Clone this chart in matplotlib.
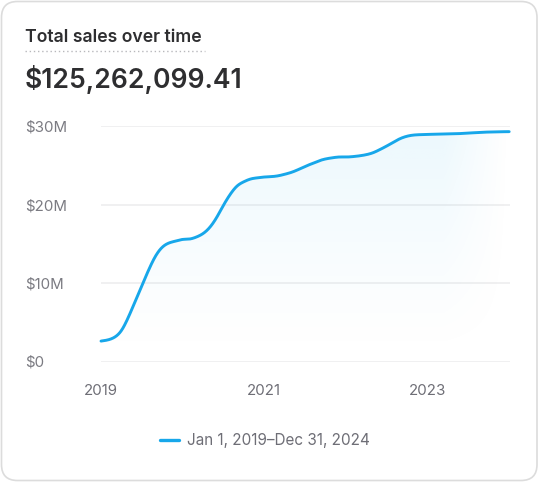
import numpy as np
import matplotlib
matplotlib.use("Agg")
import matplotlib.pyplot as plt
from matplotlib.patches import FancyBboxPatch, Polygon
from matplotlib.lines import Line2D
from matplotlib.transforms import IdentityTransform

# ---------------- data (cumulative sales in $M, monthly from Jan 2019) ----------------
months = np.arange(61)  # months since Jan 2019
sales_m = [2.6, 2.75, 3.1, 3.95, 5.6, 7.6, 9.65, 11.65, 13.4, 14.55, 15.1, 15.35,
           15.55, 15.6, 15.85, 16.3, 17.1, 18.35, 19.9, 21.3, 22.35, 22.9, 23.25, 23.4,
           23.5, 23.55, 23.65, 23.85, 24.1, 24.45, 24.85, 25.2, 25.55, 25.8, 25.95, 26.05,
           26.05, 26.1, 26.2, 26.35, 26.6, 27.0, 27.45, 27.95, 28.4, 28.7, 28.85, 28.9,
           28.93, 28.95, 28.97, 28.99, 29.0, 29.05, 29.1, 29.15, 29.2, 29.23, 29.25, 29.27,
           29.28]
y_ticks = [0, 10, 20, 30]
y_tick_labels = ["$0", "$10M", "$20M", "$30M"]
x_ticks = [2019, 2021, 2023]
x_tick_labels = ["2019", "2021", "2023"]
title = "Total sales over time"
total_label = "$125,262,099.41"
legend_label = "Jan 1, 2019\u2013Dec 31, 2024"

LINE = "#17a7ea"
FONT = ["Inter", "DejaVu Sans"]
plt.rcParams["font.family"] = FONT


def natural_spline(x, y, xs):
    x = np.asarray(x, float); y = np.asarray(y, float)
    n = len(x)
    h = np.diff(x)
    A = np.zeros((n, n)); b = np.zeros(n)
    A[0, 0] = 1; A[-1, -1] = 1
    for i in range(1, n - 1):
        A[i, i - 1] = h[i - 1]; A[i, i] = 2 * (h[i - 1] + h[i]); A[i, i + 1] = h[i]
        b[i] = 3 * ((y[i + 1] - y[i]) / h[i] - (y[i] - y[i - 1]) / h[i - 1])
    c = np.linalg.solve(A, b)
    bb = (y[1:] - y[:-1]) / h - h * (2 * c[:-1] + c[1:]) / 3
    d = (c[1:] - c[:-1]) / (3 * h)
    idx = np.clip(np.searchsorted(x, xs) - 1, 0, n - 2)
    dx = xs - x[idx]
    return y[idx] + bb[idx] * dx + c[idx] * dx**2 + d[idx] * dx**3


W, H = 540, 484
fig = plt.figure(figsize=(W / 100, H / 100), dpi=100)
fig.patch.set_facecolor("white")

# card
card = FancyBboxPatch((1.5, 3.5), 535.5, 479, boxstyle="round,pad=0,rounding_size=16",
                      transform=IdentityTransform(), facecolor="white",
                      edgecolor="#dcdcdc", linewidth=1.2, zorder=-10)
fig.patches.append(card)

left, right = 101 / W, 510 / W
bottom, top = 1 - 361.5 / H, 1 - 126 / H
ax = fig.add_axes([left, bottom, right - left, top - bottom])
ax.set_facecolor("none")
ax.set_zorder(1)

t = 2019 + months / 12.0
xs = np.linspace(t[0], t[-1], 1200)
ys = natural_spline(t, sales_m, xs)

# gradient fill clipped to area under curve
gx = np.linspace(0, 1, 300)
gy = np.linspace(0, 1, 200)
GX, GY = np.meshgrid(gx, gy)
alpha = 0.08 * GY ** 1.2
hfade = np.clip((1.0 - GX) / 0.16, 0, 1)
alpha = alpha * hfade
img = np.zeros((200, 300, 4))
img[..., 0] = 14 / 255; img[..., 1] = 165 / 255; img[..., 2] = 233 / 255
img[..., 3] = alpha
im = ax.imshow(img, extent=[t[0], t[-1], 0, 30], origin="lower",
               aspect="auto", zorder=1, interpolation="bilinear")
poly = Polygon(np.column_stack([np.r_[xs, xs[-1], xs[0]], np.r_[ys, 0, 0]]),
               closed=True, transform=ax.transData, facecolor="none", edgecolor="none")
ax.add_patch(poly)
im.set_clip_path(poly)

ax.plot(xs, ys, color=LINE, lw=2.1, solid_capstyle="round", zorder=3, clip_on=False)

for s in ax.spines.values():
    s.set_visible(False)
ax.set_yticks(y_ticks)
ax.set_yticklabels(y_tick_labels, ha="left")
ax.set_xticks(x_ticks)
ax.set_xticklabels(x_tick_labels)
ax.tick_params(axis="y", length=0, pad=54.5, labelsize=10.8, labelcolor="#7b7b82")
ax.tick_params(axis="x", length=0, pad=16.5, labelsize=10.8, labelcolor="#6e6e76")
ax.grid(axis="y", color="#ececee", lw=1.1, zorder=0)
ax.grid(axis="x", visible=False)
ax.set_axisbelow(True)
ax.set_xlim(2019.0, 2024.01)
ax.set_ylim(0, 30)

# header
fig.text(25 / W, 1 - 38 / H, title, fontsize=12.7, fontweight="semibold",
         color="#2e2e30", va="center", ha="left")
fig.add_artist(Line2D([25 / W, 205 / W], [1 - 50.5 / H, 1 - 50.5 / H],
                      transform=fig.transFigure, color="#b8b8bc", lw=1.0,
                      linestyle=(0, (1, 2))))
fig.text(25 / W, 1 - 79 / H, total_label, fontsize=19.1, fontweight="semibold",
         color="#2e2e30", va="center", ha="left")

# legend
handle = Line2D([], [], color=LINE, lw=2.4, solid_capstyle="round")
fig.legend([handle], [legend_label], loc="center", bbox_to_anchor=(265 / W, 1 - 441 / H),
           frameon=False, fontsize=11, labelcolor="#6e6e76", handlelength=1.2,
           handletextpad=0.55)

fig.savefig("out.png", dpi=100, facecolor="white")
